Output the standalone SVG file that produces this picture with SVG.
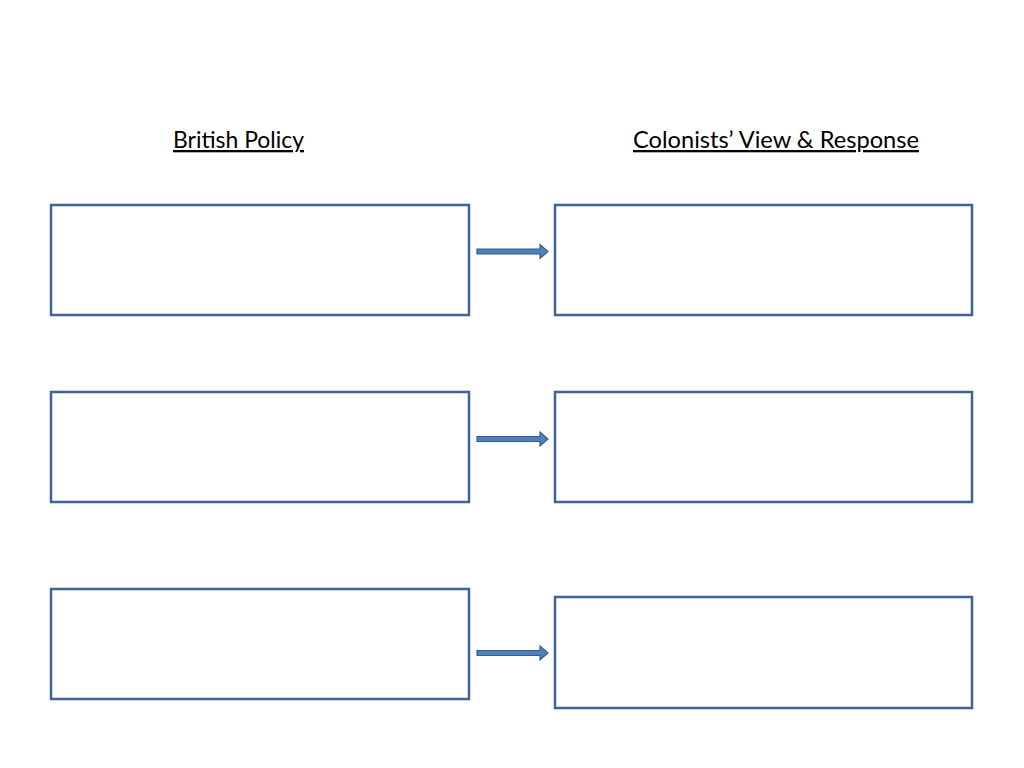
<svg xmlns="http://www.w3.org/2000/svg" width="1024" height="768" viewBox="0 0 1024 768">
<style>
.box{fill:#fff;stroke:#3f6397;stroke-width:2.5}
.arr{fill:#4f81bd;stroke:#385d8a;stroke-width:1.2}
.t{font-family:Lato,"Open Sans",sans-serif;font-size:23px;fill:#000;text-decoration:underline}
</style>
<rect width="1024" height="768" fill="#fff"/>
<g id="title-left"><text class="t" x="173" y="148" textLength="131" lengthAdjust="spacingAndGlyphs">British Policy</text></g>
<g id="title-right"><text class="t" x="633" y="148" textLength="286" lengthAdjust="spacingAndGlyphs">Colonists’ View &amp; Response</text></g>
<g id="policy1"><rect class="box" x="51" y="205" width="418" height="110"/></g>
<g id="response1"><rect class="box" x="555" y="205" width="417" height="110"/></g>
<g id="policy2"><rect class="box" x="51" y="392" width="418" height="110"/></g>
<g id="response2"><rect class="box" x="555" y="392" width="417" height="110"/></g>
<g id="policy3"><rect class="box" x="51" y="589" width="418" height="110"/></g>
<g id="response3"><rect class="box" x="555" y="597" width="417" height="111"/></g>
<g id="connectors">
<path class="arr" d="M477 249 H540 V244.5 L548 251.5 L540 258.5 V254 H477 Z"/>
<path class="arr" d="M477 436.5 H540 V432 L548 439 L540 446 V441.5 H477 Z"/>
<path class="arr" d="M477 650.5 H540 V646 L548 653 L540 660 V655.5 H477 Z"/>
</g>
</svg>
